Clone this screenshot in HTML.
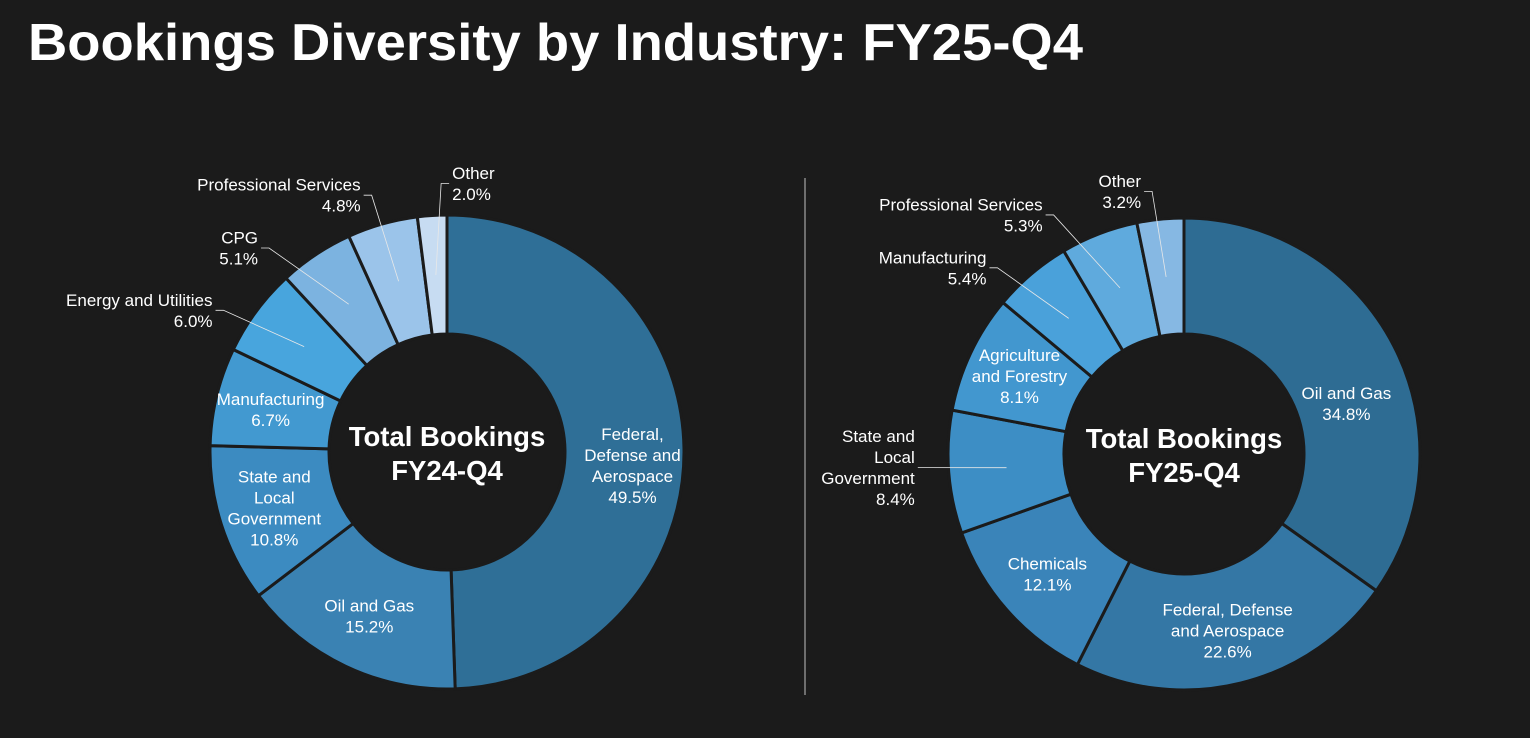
<!DOCTYPE html>
<html><head><meta charset="utf-8">
<style>
html,body{margin:0;padding:0;background:#1b1b1b;width:1530px;height:738px;overflow:hidden}
svg{display:block}
text{font-family:"Liberation Sans",sans-serif;fill:#fff}
</style></head>
<body>
<svg id="chart" width="1530" height="738">
<text x="28" y="60" font-size="52" font-weight="bold" textLength="1055" lengthAdjust="spacingAndGlyphs">Bookings Diversity by Industry: FY25-Q4</text>
<line x1="805" y1="178" x2="805" y2="695" stroke="#8a8a8a" stroke-width="1.5"/>
</svg>
<script>
const leftCategories=["Federal, Defense and Aerospace","Oil and Gas","State and Local Government","Manufacturing","Energy and Utilities","CPG","Professional Services","Other"];
const leftValues=[49.5,15.2,10.8,6.7,6.0,5.1,4.8,2.0];
const leftLabelLines=[["Federal,","Defense and","Aerospace"],["Oil and Gas"],["State and","Local","Government"],["Manufacturing"],["Energy and Utilities"],["CPG"],["Professional Services"],["Other"]];
const leftOutside=[false,false,false,false,true,true,true,true];
const leftColors=["#2f6f97","#3a82b3","#3c8bc1","#4299d0","#48a5dd","#7cb3e0","#9bc4ea","#c7dcf2"];
const leftLabelDx=[0,0,0,0,-7,-29,-2,11];
const leftLabelDy=[0,0,0,0,18,20,2,0];

const rightCategories=["Oil and Gas","Federal, Defense and Aerospace","Chemicals","State and Local Government","Agriculture and Forestry","Manufacturing","Professional Services","Other"];
const rightValues=[34.8,22.6,12.1,8.4,8.1,5.4,5.3,3.2];
const rightLabelLines=[["Oil and Gas"],["Federal, Defense","and Aerospace"],["Chemicals"],["State and","Local","Government"],["Agriculture","and Forestry"],["Manufacturing"],["Professional Services"],["Other"]];
const rightOutside=[false,false,false,true,false,true,true,true];
const rightColors=["#2e6c93","#3477a5","#3a84b9","#3d8ec5","#4297cf","#4aa1da","#5faadd","#86b8e3"];
const rightLabelDx=[0,0,0,9,0,-13,-34,-5];
const rightLabelDy=[0,0,0,-7,0,18,11,4];

const NS="http://www.w3.org/2000/svg";
const svg=document.getElementById("chart");
function mk(tag,attrs){const e=document.createElementNS(NS,tag);for(const k in attrs)e.setAttribute(k,attrs[k]);return e;}
function pt(cx,cy,r,frac){const a=frac*2*Math.PI;return [cx+r*Math.sin(a),cy-r*Math.cos(a)];}

function donut(key,cx,cy,R,r0,cats,vals,lines,outside,colors,ldx,ldy,centerLines){
  const g=mk("g",{});
  
  
  svg.appendChild(g);
  const total=vals.reduce((a,b)=>a+b,0);
  let cum=0;
  vals.forEach((v,i)=>{
    const f0=cum/total, f1=(cum+v)/total; cum+=v;
    const [x0,y0]=pt(cx,cy,R,f0),[x1,y1]=pt(cx,cy,R,f1);
    const [ix1,iy1]=pt(cx,cy,r0,f1),[ix0,iy0]=pt(cx,cy,r0,f0);
    const large=(f1-f0)>0.5?1:0;
    const p=mk("path",{d:`M${x0},${y0}A${R},${R} 0 ${large} 1 ${x1},${y1}L${ix1},${iy1}A${r0},${r0} 0 ${large} 0 ${ix0},${iy0}Z`,fill:colors[i],stroke:"#1b1b1b","stroke-width":3});
    
    
    g.appendChild(p);
    let mid=(f0+f1)/2;
    const tl=lines[i].concat([v.toFixed(1)+"%"]);
    const t=mk("text",{"font-size":17});
    
    
    const lh=21;
    if(!outside[i]){
      const fr=f1-f0;
      let rr=(R+r0)/2+4;
      if(fr>0.45){mid+=0.0145;rr=186;}
      else if(fr>0.3){mid+=0.028;rr=170;}
      const [lx,ly]=pt(cx,cy,rr,mid);
      t.setAttribute("text-anchor","middle");
      const y0t=ly-(tl.length-1)*lh/2+6;
      tl.forEach((s,j)=>{const ts=mk("tspan",{x:lx,y:y0t+j*lh});ts.textContent=s;t.appendChild(ts);});
    } else {
      const [sx,sy]=pt(cx,cy,(R+r0)/2,mid);
      let [ex,ey]=pt(cx,cy,R+32,mid);
      const left=ex<cx-20;
      ex+=ldx[i]; ey+=ldy[i];
      const hx=left?ex-8:ex+8;
      const ln=mk("polyline",{points:`${sx},${sy} ${ex},${ey} ${hx},${ey}`,fill:"none",stroke:"#e8e8e8","stroke-width":0.8});
      
      
      g.appendChild(ln);
      const tx=left?hx-3:hx+3;
      t.setAttribute("text-anchor",left?"end":"start");
      const ytop=ey-(tl.length-1)*lh/2+6;
      tl.forEach((s,j)=>{const ts=mk("tspan",{x:tx,y:ytop+j*lh});ts.textContent=s;t.appendChild(ts);});
    }
    g.appendChild(t);
  });
  const c=mk("text",{"text-anchor":"middle","font-size":27.5,"font-weight":"bold"});
  
  
  centerLines.forEach((s,j)=>{const ts=mk("tspan",{x:cx,y:cy-6+j*34});ts.textContent=s;c.appendChild(ts);});
  g.appendChild(c);
}
donut("fy24",447,452,237,118,leftCategories,leftValues,leftLabelLines,leftOutside,leftColors,leftLabelDx,leftLabelDy,["Total Bookings","FY24-Q4"]);
donut("fy25",1184,454,236,120,rightCategories,rightValues,rightLabelLines,rightOutside,rightColors,rightLabelDx,rightLabelDy,["Total Bookings","FY25-Q4"]);
</script>
</body></html>
